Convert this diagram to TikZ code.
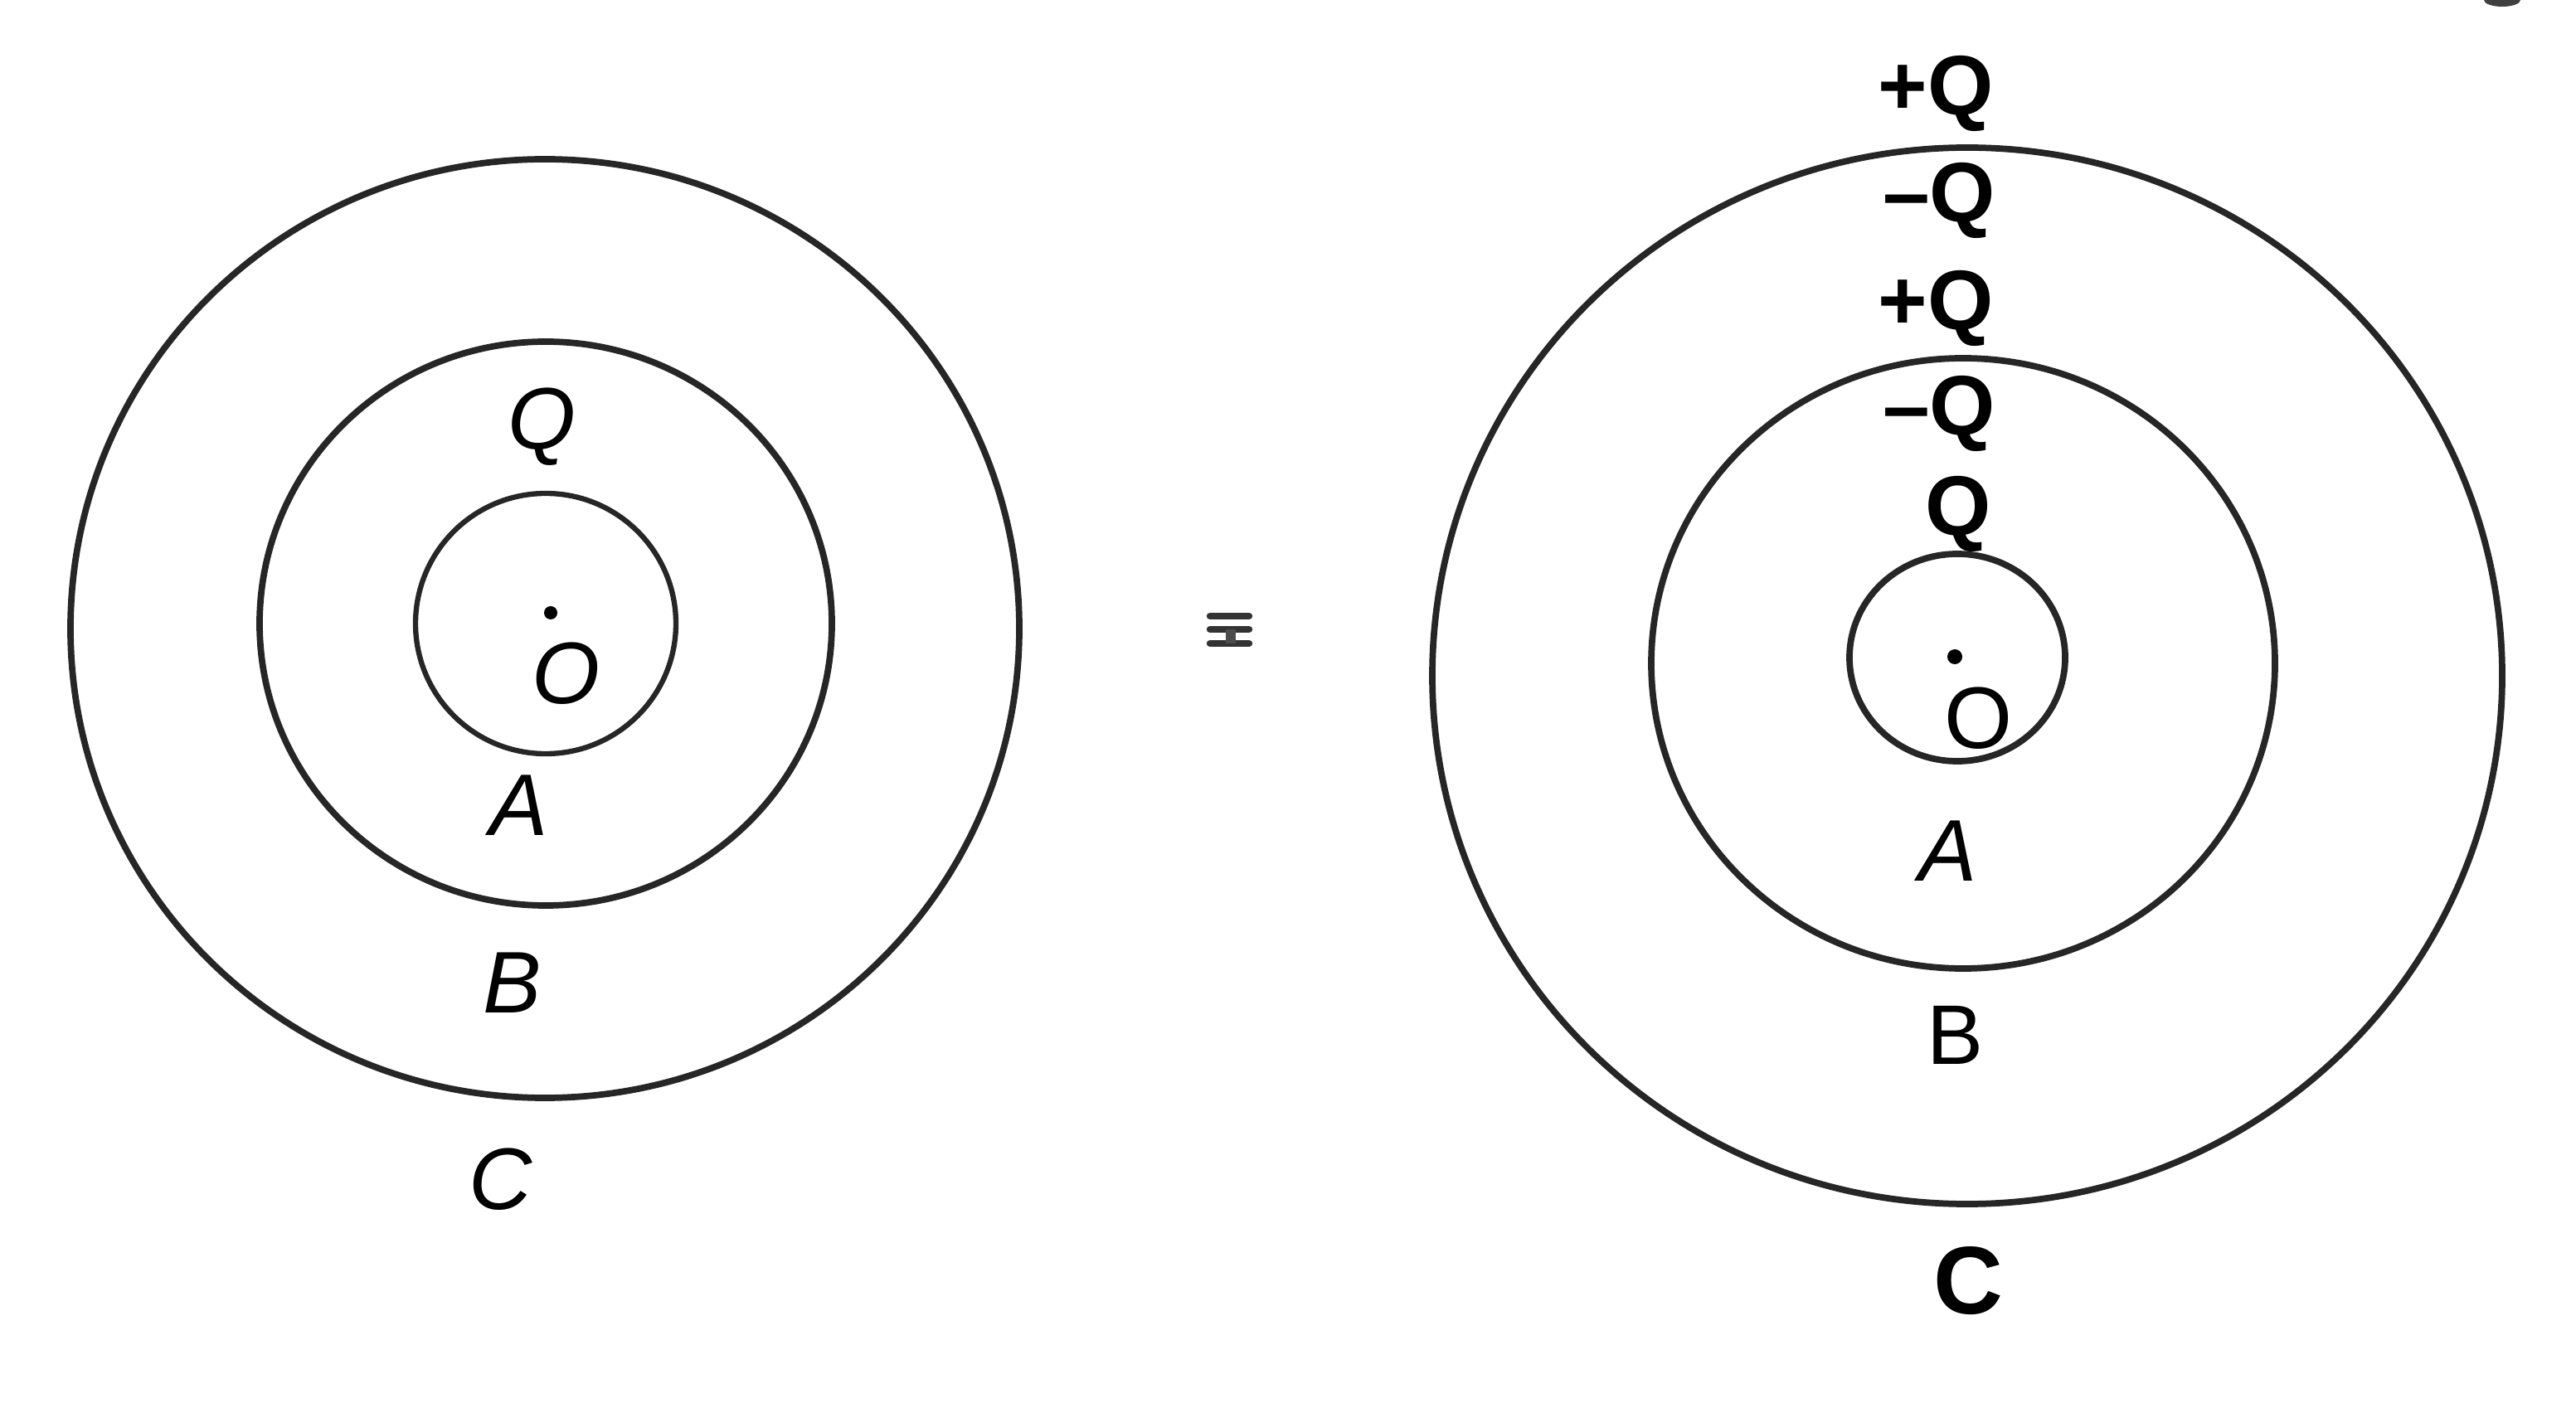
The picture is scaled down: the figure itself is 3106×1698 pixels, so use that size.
\documentclass[tikz,border=0pt]{standalone}
\usepackage{fontspec}
\setmainfont{Liberation Sans}
\begin{document}
\begin{tikzpicture}[x=0.01cm,y=-0.01cm,
  ring/.style={line width=2.2pt, black!85},
  thinring/.style={line width=1.8pt, black!85},
  lbl/.style={font=\fontsize{30}{32}\selectfont\itshape, inner sep=0pt},
  rlbl/.style={font=\fontsize{29}{31}\selectfont\bfseries, inner sep=0pt},
  bar/.style={line width=2.4pt, black!80, line cap=round}]
\useasboundingbox (0,0) rectangle (3106,1698);
% left diagram
\coordinate (L) at (658,752);
\draw[thinring] (L) ellipse [x radius=157, y radius=157];
\draw[ring] (L) ellipse [x radius=345, y radius=340];
\draw[ring] (657,758) ellipse [x radius=572, y radius=566];
\fill (664,739) circle [radius=8];
\node[lbl] (lq) at (654,515) {Q};
\node[lbl] (lo) at (683,812) {O};
\node[lbl] (la) at (626,971) {A};
\node[lbl] (lb) at (618,1185) {B};
\node[lbl] (lc) at (604,1422) {C};
% equivalence sign
\draw[bar] (1459,743) -- (1506,743);
\draw[bar] (1459,759) -- (1506,759);
\draw[bar] (1459,776) -- (1506,776);
\fill[black!70] (1478,759) rectangle (1490,776);
% right diagram
\draw[ring] (2360,793) ellipse [x radius=130, y radius=125];
\draw[ring] (2367,800) ellipse [x radius=376, y radius=368];
\draw[ring] (2372,815) ellipse [x radius=645, y radius=637];
\fill (2357,792) circle [radius=9];
\node[rlbl] (r1) at (2334,113) {+Q};
\node[rlbl] (r2) at (2338,242) {\textendash Q};
\node[rlbl] (r3) at (2334,372) {+Q};
\node[rlbl] (r4) at (2338,499) {\textendash Q};
\node[rlbl] (r5) at (2361,620) {Q};
\node[inner sep=0pt, font=\fontsize{30}{32}\selectfont] (ro) at (2385,866) {O};
\node[lbl] (ra) at (2349,1026) {A};
\node[inner sep=0pt, font=\fontsize{29}{31}\selectfont] (rb) at (2357,1248) {B};
\node[rlbl, font=\fontsize{33}{35}\selectfont\bfseries] (rc) at (2373,1545) {C};
% fragment at top right corner
\fill[black!75] (3017,0) ellipse [x radius=22, y radius=8];
\end{tikzpicture}
\end{document}
